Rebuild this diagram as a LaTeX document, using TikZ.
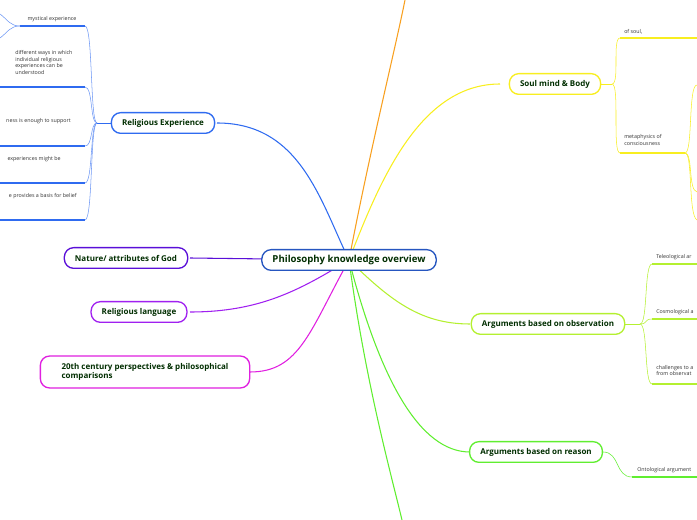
\documentclass[tikz,border=0pt]{standalone}
\usepackage{fontspec}
\setmainfont{Open Sans}
\begin{document}
\begin{tikzpicture}[x=0.75pt,y=-0.75pt,
 topic/.style={draw=#1,line width=1pt,rounded corners=7pt,fill=white,inner xsep=8pt,minimum height=15.5pt,font=\fontsize{6}{7}\selectfont\bfseries,text=black!70!green!60!black},
 leaf/.style={font=\fontsize{4}{5}\selectfont,text=black!80,align=left,inner sep=0pt},
 conn/.style={draw=#1,line width=0.8pt},
 thin/.style={draw=#1,line width=0.4pt},
 under/.style={draw=#1,line width=1.1pt}]
\useasboundingbox (0,0) rectangle (697,520);
\definecolor{cblue}{HTML}{2F6BF0}
\definecolor{cpurp}{HTML}{5A0FD8}
\definecolor{cviol}{HTML}{A020F0}
\definecolor{cmag}{HTML}{E020E0}
\definecolor{cyel}{HTML}{F8EE20}
\definecolor{clime}{HTML}{B4F030}
\definecolor{cgrn}{HTML}{60EE30}
\definecolor{corg}{HTML}{F8A020}
\coordinate (c) at (349,260);
% main connectors
\draw[conn=corg] (c) .. controls (370,150) and (395,50) .. (405,0);
\draw[conn=cgrn] (c) .. controls (365,380) and (390,470) .. (402,520);
\coordinate (re) at (217,123);
\draw[conn=cblue] (c) .. controls (320,200) and (300,123) .. (re);
\draw[conn=cpurp] (c) -- (190,258);
\draw[conn=cviol] (c) .. controls (300,290) and (260,312) .. (190,312);
\draw[conn=cmag] (c) .. controls (310,330) and (300,372) .. (250,372);
\draw[conn=cyel] (c) .. controls (380,180) and (420,84) .. (500,84);
\draw[conn=clime] (c) .. controls (390,300) and (420,324) .. (470,324);
\draw[conn=cgrn] (c) .. controls (380,380) and (420,452) .. (470,452);
% topics
\node[topic=cblue!80!black] (main) at (349,260) {\fontsize{7.2}{8}\selectfont Philosophy knowledge overview};
\node[topic=cblue] (RE) at (163,123) {Religious Experience};
\node[topic=cpurp] (NG) at (126,258) {Nature/ attributes of God};
\node[topic=cviol] (RL) at (139,312) {Religious language};
\node[topic=cmag,align=left,minimum width=157pt,minimum height=24pt] (TC) at (145,372) {20th century perspectives \& philosophical\\comparisons};
\node[topic=cyel] (SM) at (555,84) {Soul mind \& Body};
\node[topic=clime] (AO) at (548,324) {Arguments based on observation};
\node[topic=cgrn] (AR) at (536,452) {Arguments based on reason};
% Religious experience leaves
\coordinate (rb) at (97,123);
\draw[thin=cblue] (RE.west) -- (rb);
\foreach \y in {26,87,146,183,220}{
 \draw[thin=cblue!70] (rb) .. controls (90,123) and (93,\y) .. (85,\y);}
\draw[under=cblue] (20,26) -- (85,26);
\draw[under=cblue] (0,87) -- (85,87);
\draw[under=cblue] (0,146) -- (85,146);
\draw[under=cblue] (0,183) -- (85,183);
\draw[under=cblue] (0,220) -- (85,220);
\draw[thin=cblue!70] (20,26) .. controls (10,26) and (8,20) .. (0,14);
\draw[thin=cblue!70] (20,26) .. controls (10,26) and (8,32) .. (0,38);
\node[leaf] (l1) at (52,19) {mystical experience};
\node[leaf,anchor=north west] (l2) at (15,50) {different ways in which\\individual religious\\experiences can be\\understood};
\node[leaf,anchor=east] (l3) at (71,121) {ness is enough to support};
\node[leaf,anchor=east] (l4) at (61,159) {experiences might be};
\node[leaf,anchor=east] (l5) at (77,196) {e provides a basis for belief};
% Soul leaves
\coordinate (sb) at (612,84);
\draw[thin=cyel] (SM.east) -- (sb);
\draw[thin=cyel] (sb) .. controls (620,84) and (612,38) .. (620,38);
\draw[thin=cyel] (sb) .. controls (620,84) and (612,153) .. (620,153);
\draw[under=cyel] (620,38) -- (697,38);
\draw[under=cyel] (620,153) -- (685,153);
\draw[thin=cyel] (685,153) .. controls (693,153) and (688,85) .. (697,85);
\draw[thin=cyel] (685,153) .. controls (693,153) and (688,190) .. (697,192);
\draw[thin=cyel] (685,153) .. controls (693,153) and (688,215) .. (697,220);
\node[leaf,anchor=west] (s1) at (624,32) {of soul,};
\node[leaf,anchor=north west] (s2) at (624,134) {metaphysics of\\consciousness};
% Observation leaves
\coordinate (ob) at (640,324);
\draw[thin=clime] (AO.east) -- (ob);
\foreach \y in {264,319,384}{
 \draw[thin=clime] (ob) .. controls (648,324) and (644,\y) .. (652,\y);
 \draw[under=clime] (652,\y) -- (697,\y);}
\node[leaf,anchor=west] (o1) at (656,257) {Teleological ar};
\node[leaf,anchor=west] (o2) at (656,312) {Cosmological a};
\node[leaf,anchor=north west] (o3) at (656,365) {challenges to a\\from observat};
% Reason leaf
\coordinate (rl) at (632,477);
\draw[thin=cgrn] (AR.east) .. controls (620,452) and (615,477) .. (rl);
\draw[under=cgrn] (rl) -- (697,477);
\node[leaf,anchor=west] (r1) at (637,470) {Ontological argument};
\end{tikzpicture}
\end{document}
